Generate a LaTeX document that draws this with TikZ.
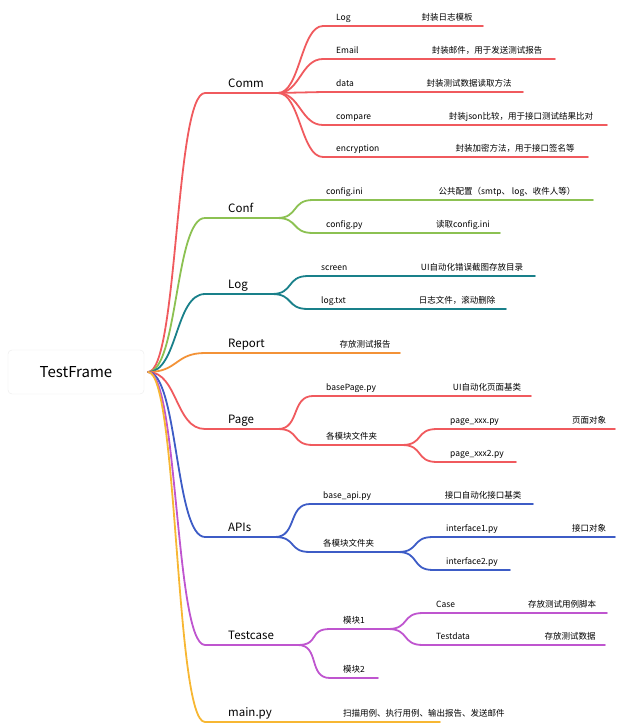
\documentclass[tikz,border=0pt]{standalone}
\usepackage{fontspec}
\setmainfont{Noto Sans CJK SC}
\definecolor{cRed}{HTML}{F05A5E}
\definecolor{cGreen}{HTML}{8CC152}
\definecolor{cTeal}{HTML}{19808A}
\definecolor{cOrange}{HTML}{F39237}
\definecolor{cBlue}{HTML}{3D5CC6}
\definecolor{cPurple}{HTML}{BF55CF}
\definecolor{cYellow}{HTML}{F7B733}
\tikzset{
	br/.style={line width=1.8pt, line cap=round},
	top/.style={font=\fontsize{11.5}{13}\selectfont, anchor=base west, inner sep=0pt},
	leaf/.style={font=\fontsize{8.5}{10}\selectfont, anchor=base west, inner sep=0pt},
	desc/.style={font=\fontsize{8.5}{10}\selectfont, anchor=base, inner sep=0pt},
}
% #1 colour, #2 joint, #3 name, #4 y, #5 x start, #6 x end, #7 label
\newcommand\leaf[7]{%
	\coordinate (#3s) at (#5,#4);
	\coordinate (#3e) at (#6,#4);
	\draw[br,#1] (#2) .. controls +(22,0) and +(-22,0) .. (#3s) -- (#3e);
	\node[leaf] (#3l) at (#5+13,#4-6) {#7};
}
\begin{document}
\begin{tikzpicture}[x=1pt,y=-1pt]
\useasboundingbox (0,0) rectangle (641,726);

\node[draw=black!8, fill=white, rounded corners=4pt, minimum width=136pt, minimum height=44pt,
	font=\fontsize{15}{18}\selectfont] (root) at (76,372) {TestFrame};
\coordinate (r) at (148,372);

% first level
\foreach \n/\y/\xe/\c/\t in {comm/93/278/cRed/Comm, conf/218/277/cGreen/Conf, log/294/272/cTeal/Log,
	report/353/400/cOrange/Report, page/429/278/cRed/Page, apis/537/275/cBlue/APIs,
	testcase/645/298/cPurple/Testcase, main/722/440/cYellow/main.py} {
	\coordinate (\n s) at (205,\y);
	\coordinate (\n J) at (\xe,\y);
	\draw[br,\c] (r) .. controls +(30,0) and +(-30,0) .. (\n s) -- (\n J);
	\node[top] (\n L) at (228,\y-6) {\t};
}

% Comm
\leaf{cRed}{commJ}{clog}{26}{323}{483}{Log}
\leaf{cRed}{commJ}{email}{59}{323}{555}{Email}
\leaf{cRed}{commJ}{data}{92}{323}{523}{data}
\leaf{cRed}{commJ}{cmp}{125}{323}{607}{compare}
\leaf{cRed}{commJ}{enc}{157}{323}{588}{encryption}
\node[desc] (clogd) at (447,20) {封装日志模板};
\node[desc] (emaild) at (487,53) {封装邮件，用于发送测试报告};
\node[desc] (datad) at (469,86) {封装测试数据读取方法};
\node[desc] (cmpd) at (521,119) {封装json比较，用于接口测试结果比对};
\node[desc] (encd) at (515,151) {封装加密方法，用于接口签名等};

% Conf
\leaf{cGreen}{confJ}{ini}{200}{313}{593}{config.ini}
\leaf{cGreen}{confJ}{cpy}{233}{313}{500}{config.py}
\node[desc] (inid) at (507,194) {公共配置（smtp、 log、收件人等）};
\node[desc] (cpyd) at (463,227) {读取config.ini};

% Log
\leaf{cTeal}{logJ}{scr}{276}{308}{535}{screen}
\leaf{cTeal}{logJ}{txt}{309}{308}{506}{log.txt}
\node[desc] (scrd) at (472,270) {UI自动化错误截图存放目录};
\node[desc] (txtd) at (457,303) {日志文件，滚动删除};

% Report
\node[desc] (reportd) at (365,347) {存放测试报告};

% Page
\leaf{cRed}{pageJ}{base}{396}{313}{531}{basePage.py}
\leaf{cRed}{pageJ}{pmod}{445}{313}{402}{各模块文件夹}
\leaf{cRed}{pmode}{px}{429}{437}{615}{page\_xxx.py}
\leaf{cRed}{pmode}{pxx}{462}{437}{516}{page\_xxx2.py}
\node[desc] (based) at (487,390) {UI自动化页面基类};
\node[desc] (pxd) at (589,423) {页面对象};

% APIs
\leaf{cBlue}{apisJ}{bapi}{504}{310}{533}{base\_api.py}
\leaf{cBlue}{apisJ}{amod}{552}{310}{398}{各模块文件夹}
\leaf{cBlue}{amode}{if}{537}{433}{615}{interface1.py}
\leaf{cBlue}{amode}{iff}{570}{433}{510}{interface2.py}
\node[desc] (bapid) at (483,498) {接口自动化接口基类};
\node[desc] (ifd) at (589,531) {接口对象};

% Testcase
\leaf{cPurple}{testcaseJ}{m}{629}{330}{388}{模块1}
\leaf{cPurple}{testcaseJ}{mm}{678}{330}{378}{模块2}
\leaf{cPurple}{me}{case}{613}{423}{607}{Case}
\leaf{cPurple}{me}{tdata}{645}{423}{605}{Testdata}
\node[desc] (cased) at (562,607) {存放测试用例脚本};
\node[desc] (tdatad) at (570,639) {存放测试数据};

% main.py
\node[leaf] (maind) at (343,716) {扫描用例、执行用例、输出报告、发送邮件};

\end{tikzpicture}
\end{document}
